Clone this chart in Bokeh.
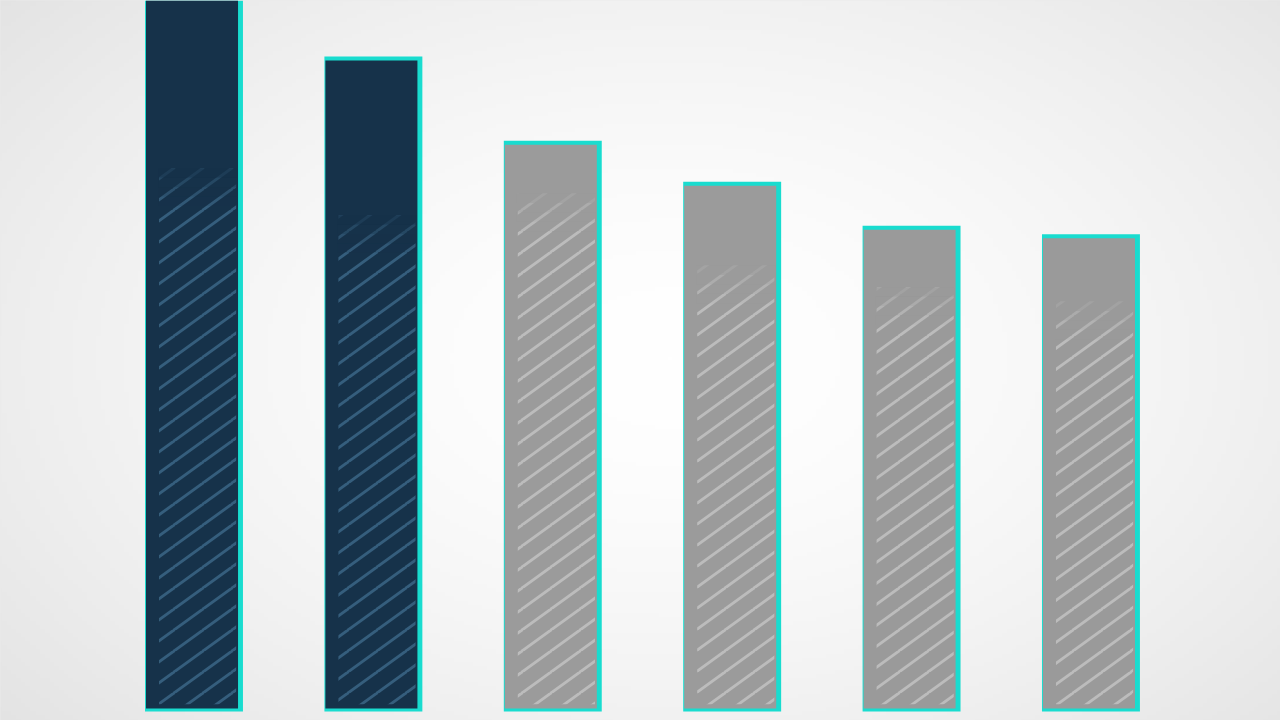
import base64
import numpy as np
from bokeh.plotting import figure
from bokeh.models import ColumnDataSource, FactorRange, ImageURLTexture
from bokeh.transform import dodge
from bokeh.embed import file_html
from bokeh.resources import INLINE

# ---- data ----
categories = ["1", "2", "3", "4", "5", "6"]
values = [100.0, 90.0, 78.3, 72.6, 66.5, 65.3]
hatch_tops = [75.0, 68.5, 71.5, 61.5, 58.5, 56.5]
bar_colors = ["#16324a", "#16324a", "#9b9b9b", "#9b9b9b", "#9a9a9a", "#9a9a9a"]
hatch_kind = ["blue", "blue", "gray", "gray", "gray", "gray"]

W, H = 1280, 720
PX_PER_UNIT = 7.2  # vertical pixels per value unit
BOTTOM_GAP = 12    # px between frame bottom and bar base


def stripe_texture(color, opacity):
    svg = ("<svg xmlns='http://www.w3.org/2000/svg' width='29' height='21'>"
           "<path d='M0,21 L29,0 M-29,21 L0,0 M29,21 L58,0' stroke='%s' "
           "stroke-width='2.8' stroke-opacity='%s' stroke-linecap='round' fill='none'/></svg>"
           % (color, opacity))
    url = "data:image/svg+xml;base64," + base64.b64encode(svg.encode()).decode()
    return ImageURLTexture(url=url, repetition="repeat")


textures = {"blue": stripe_texture("#4a7c9e", 0.6), "gray": stripe_texture("#d2d2d2", 0.6)}

src = ColumnDataSource(dict(
    cat=categories,
    top=values,
    cyan_top=[v + 4 / PX_PER_UNIT for v in values],
    htop=hatch_tops,
    color=bar_colors,
    pat=hatch_kind,
))

p = figure(
    width=W, height=H,
    x_range=FactorRange(*categories, range_padding=0.1892, range_padding_units="percent"),
    y_range=(-BOTTOM_GAP / PX_PER_UNIT, (H - BOTTOM_GAP) / PX_PER_UNIT),
    output_backend="svg", toolbar_location=None,
    min_border=0, outline_line_color=None,
    border_fill_color="#ebebeb", background_fill_color="#ebebeb",
)
p.xaxis.visible = False
p.yaxis.visible = False
p.xgrid.visible = False
p.ygrid.visible = False

# radial background gradient (styling)
ny, nx = 180, 320
yy, xx = np.mgrid[0:ny, 0:nx]
r = np.sqrt(((xx - nx * 0.5) / (nx * 0.62)) ** 2 + ((yy - ny * 0.5) / (ny * 0.8)) ** 2)
lum = (255 - 30 * np.clip(r, 0, 1.3) ** 1.6).astype(np.uint32)
img = (255 << 24) | (lum << 16) | (lum << 8) | lum
y0 = -BOTTOM_GAP / PX_PER_UNIT
p.image_rgba(image=[img.astype(np.uint32)], x=-1, y=y0 - 1, dw=8.3, dh=H / PX_PER_UNIT + 2)

# cyan rim behind bars
p.vbar(x=dodge("cat", 0.011, range=p.x_range), top="cyan_top", bottom=-0.42, width=0.546,
       source=src, fill_color="#19dccf", line_color=None)
# main bars
p.vbar(x="cat", top="top", bottom=0, width=0.513, source=src,
       fill_color="color", line_color=None)
# hatched inner panel
hx = dodge("cat", 0.031, range=p.x_range)
p.vbar(x=hx, top="htop", bottom=0.6, width=0.43, source=src,
       fill_alpha=0, line_color=None, hatch_pattern="pat", hatch_extra=textures,
       hatch_alpha=1.0)
# soft fade at the top of the hatched panel (bar-coloured veils)
for k, a in enumerate((0.75, 0.5, 0.3, 0.12)):
    band = ColumnDataSource(dict(
        cat=categories,
        top=[h - k * 1.3 for h in hatch_tops],
        bottom=[h - (k + 1) * 1.3 for h in hatch_tops],
        color=bar_colors,
    ))
    p.vbar(x=dodge("cat", 0.031, range=p.x_range), top="top", bottom="bottom", width=0.44,
           source=band, fill_color="color", fill_alpha=a, line_color=None)

html = file_html(p, INLINE)
html = html.replace("<body>", '<body style="background:#ebebeb">')
open("out.html", "w").write(html)
